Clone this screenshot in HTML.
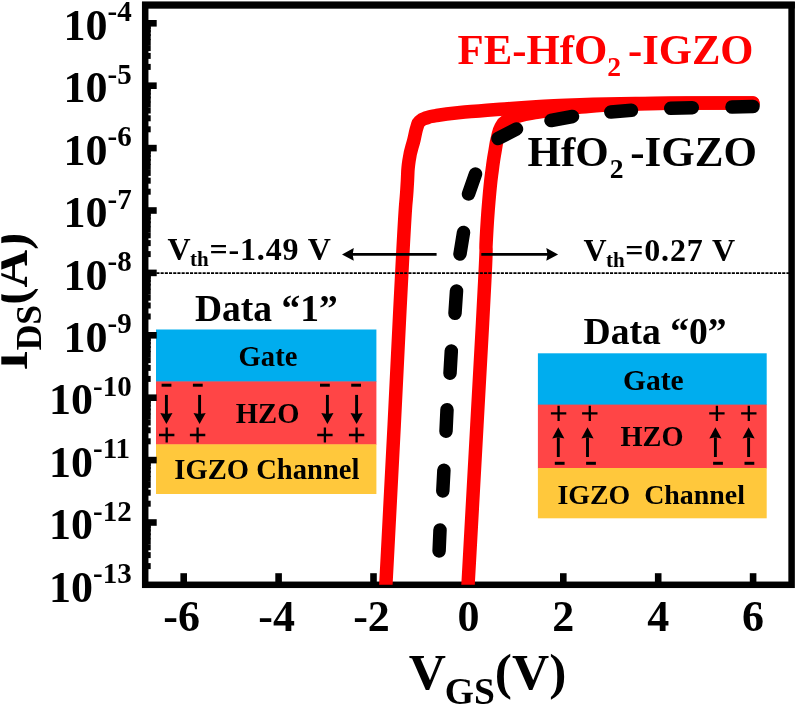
<!DOCTYPE html>
<html><head><meta charset="utf-8"><title>IDS-VGS transfer curves</title>
<style>
html,body{margin:0;padding:0;background:#fff;}
body{width:797px;height:706px;overflow:hidden;}
svg{display:block;}
text{font-family:"Liberation Serif",serif;font-weight:bold;}
</style></head><body>
<svg width="797" height="706" viewBox="0 0 797 706">
<rect width="797" height="706" fill="#fff"/>

<rect x="156" y="329.5" width="220.4" height="52.4" fill="#00adee"/>
<rect x="156" y="381.4" width="220.4" height="63.4" fill="#ff4546"/>
<rect x="156" y="444.3" width="220.4" height="49.7" fill="#ffc83c"/>
<text x="195" y="320.9" font-size="37.5">Data “1”</text>
<text x="268" y="366" font-size="28.6" text-anchor="middle">Gate</text>
<text x="267.6" y="422.9" font-size="28.6" text-anchor="middle">HZO</text>
<text x="266.9" y="478.9" font-size="28.6" text-anchor="middle">IGZO Channel</text>
<g stroke="#000" fill="#000">
<line x1="161.6" y1="385.2" x2="171.4" y2="385.2" stroke-width="3"/>
<line x1="192.9" y1="385.2" x2="202.7" y2="385.2" stroke-width="3"/>
<line x1="320.0" y1="385.2" x2="329.8" y2="385.2" stroke-width="3"/>
<line x1="351.2" y1="385.2" x2="361.0" y2="385.2" stroke-width="3"/>
<line x1="166.4" y1="394.9" x2="166.4" y2="414.1" stroke-width="2.9"/>
<path d="M166.4 424.1 L160.3 412.9 L166.4 414.1 L172.5 412.9 Z" stroke="none"/>
<line x1="199.6" y1="394.9" x2="199.6" y2="414.1" stroke-width="2.9"/>
<path d="M199.6 424.1 L193.5 412.9 L199.6 414.1 L205.7 412.9 Z" stroke="none"/>
<line x1="327.4" y1="394.9" x2="327.4" y2="414.1" stroke-width="2.9"/>
<path d="M327.4 424.1 L321.3 412.9 L327.4 414.1 L333.5 412.9 Z" stroke="none"/>
<line x1="356.6" y1="394.9" x2="356.6" y2="414.1" stroke-width="2.9"/>
<path d="M356.6 424.1 L350.5 412.9 L356.6 414.1 L362.7 412.9 Z" stroke="none"/>
<path d="M159.0 435 H174.4 M166.7 427.4 V442.6" fill="none" stroke-width="2.3"/>
<path d="M189.9 435 H205.3 M197.6 427.4 V442.6" fill="none" stroke-width="2.3"/>
<path d="M317.2 435 H332.6 M324.9 427.4 V442.6" fill="none" stroke-width="2.3"/>
<path d="M348.9 435 H364.3 M356.6 427.4 V442.6" fill="none" stroke-width="2.3"/>
</g>
<rect x="537.9" y="353.3" width="228.8" height="51.8" fill="#00adee"/>
<rect x="537.9" y="404.6" width="228.8" height="63.9" fill="#ff4546"/>
<rect x="537.9" y="468" width="228.8" height="50.3" fill="#ffc83c"/>
<text x="583.6" y="343.8" font-size="37.6">Data “0”</text>
<text x="653.3" y="389.5" font-size="29.5" text-anchor="middle">Gate</text>
<text x="652.1" y="446.2" font-size="28.4" text-anchor="middle">HZO</text>
<text x="651.2" y="503.6" font-size="27.9" text-anchor="middle" xml:space="preserve">IGZO  Channel</text>
<g stroke="#000" fill="#000">
<path d="M550.9 413.4 H566.3 M558.6 405.8 V421.0" fill="none" stroke-width="2.3"/>
<path d="M582.1 413.4 H597.5 M589.8 405.8 V421.0" fill="none" stroke-width="2.3"/>
<path d="M709.2 413.4 H724.6 M716.9 405.8 V421.0" fill="none" stroke-width="2.3"/>
<path d="M741.1 413.4 H756.5 M748.8 405.8 V421.0" fill="none" stroke-width="2.3"/>
<line x1="558.3" y1="457" x2="558.3" y2="437.3" stroke-width="2.9"/>
<path d="M558.3 427.3 L552.2 438.5 L558.3 437.3 L564.4 438.5 Z" stroke="none"/>
<line x1="587.5" y1="457" x2="587.5" y2="437.3" stroke-width="2.9"/>
<path d="M587.5 427.3 L581.4 438.5 L587.5 437.3 L593.6 438.5 Z" stroke="none"/>
<line x1="715.4" y1="457" x2="715.4" y2="437.3" stroke-width="2.9"/>
<path d="M715.4 427.3 L709.3 438.5 L715.4 437.3 L721.5 438.5 Z" stroke="none"/>
<line x1="748.6" y1="457" x2="748.6" y2="437.3" stroke-width="2.9"/>
<path d="M748.6 427.3 L742.5 438.5 L748.6 437.3 L754.7 438.5 Z" stroke="none"/>
<line x1="554.8" y1="463.3" x2="564.6" y2="463.3" stroke-width="3"/>
<line x1="586.1" y1="463.3" x2="595.9" y2="463.3" stroke-width="3"/>
<line x1="713.1" y1="463.3" x2="722.9" y2="463.3" stroke-width="3"/>
<line x1="744.5" y1="463.3" x2="754.3" y2="463.3" stroke-width="3"/>
</g>
<g stroke="#000" fill="none">
<rect x="145.2" y="5.1" width="646.4" height="579.7" stroke-width="6.5"/>
<line x1="142" y1="5.05" x2="794.85" y2="5.05" stroke-width="7"/>
<line x1="148" y1="23.3" x2="156.7" y2="23.3" stroke-width="6.6"/>
<line x1="148" y1="85.7" x2="156.7" y2="85.7" stroke-width="6.6"/>
<line x1="148" y1="148.1" x2="156.7" y2="148.1" stroke-width="6.6"/>
<line x1="148" y1="210.5" x2="156.7" y2="210.5" stroke-width="6.6"/>
<line x1="148" y1="272.9" x2="156.7" y2="272.9" stroke-width="6.6"/>
<line x1="148" y1="335.3" x2="156.7" y2="335.3" stroke-width="6.6"/>
<line x1="148" y1="397.7" x2="156.7" y2="397.7" stroke-width="6.6"/>
<line x1="148" y1="460.1" x2="156.7" y2="460.1" stroke-width="6.6"/>
<line x1="148" y1="522.5" x2="156.7" y2="522.5" stroke-width="6.6"/>
<line x1="148" y1="66.9" x2="150.7" y2="66.9" stroke-width="6"/>
<line x1="148" y1="55.9" x2="150.7" y2="55.9" stroke-width="6"/>
<line x1="148" y1="48.1" x2="150.7" y2="48.1" stroke-width="6"/>
<line x1="148" y1="42.1" x2="150.7" y2="42.1" stroke-width="6"/>
<line x1="148" y1="37.1" x2="150.7" y2="37.1" stroke-width="6"/>
<line x1="148" y1="33.0" x2="150.7" y2="33.0" stroke-width="6"/>
<line x1="148" y1="29.3" x2="150.7" y2="29.3" stroke-width="6"/>
<line x1="148" y1="26.2" x2="150.7" y2="26.2" stroke-width="6"/>
<line x1="148" y1="129.3" x2="150.7" y2="129.3" stroke-width="6"/>
<line x1="148" y1="118.3" x2="150.7" y2="118.3" stroke-width="6"/>
<line x1="148" y1="110.5" x2="150.7" y2="110.5" stroke-width="6"/>
<line x1="148" y1="104.5" x2="150.7" y2="104.5" stroke-width="6"/>
<line x1="148" y1="99.5" x2="150.7" y2="99.5" stroke-width="6"/>
<line x1="148" y1="95.4" x2="150.7" y2="95.4" stroke-width="6"/>
<line x1="148" y1="91.7" x2="150.7" y2="91.7" stroke-width="6"/>
<line x1="148" y1="88.6" x2="150.7" y2="88.6" stroke-width="6"/>
<line x1="148" y1="191.7" x2="150.7" y2="191.7" stroke-width="6"/>
<line x1="148" y1="180.7" x2="150.7" y2="180.7" stroke-width="6"/>
<line x1="148" y1="172.9" x2="150.7" y2="172.9" stroke-width="6"/>
<line x1="148" y1="166.9" x2="150.7" y2="166.9" stroke-width="6"/>
<line x1="148" y1="161.9" x2="150.7" y2="161.9" stroke-width="6"/>
<line x1="148" y1="157.8" x2="150.7" y2="157.8" stroke-width="6"/>
<line x1="148" y1="154.1" x2="150.7" y2="154.1" stroke-width="6"/>
<line x1="148" y1="151.0" x2="150.7" y2="151.0" stroke-width="6"/>
<line x1="148" y1="254.1" x2="150.7" y2="254.1" stroke-width="6"/>
<line x1="148" y1="243.1" x2="150.7" y2="243.1" stroke-width="6"/>
<line x1="148" y1="235.3" x2="150.7" y2="235.3" stroke-width="6"/>
<line x1="148" y1="229.3" x2="150.7" y2="229.3" stroke-width="6"/>
<line x1="148" y1="224.3" x2="150.7" y2="224.3" stroke-width="6"/>
<line x1="148" y1="220.2" x2="150.7" y2="220.2" stroke-width="6"/>
<line x1="148" y1="216.5" x2="150.7" y2="216.5" stroke-width="6"/>
<line x1="148" y1="213.4" x2="150.7" y2="213.4" stroke-width="6"/>
<line x1="148" y1="316.5" x2="150.7" y2="316.5" stroke-width="6"/>
<line x1="148" y1="305.5" x2="150.7" y2="305.5" stroke-width="6"/>
<line x1="148" y1="297.7" x2="150.7" y2="297.7" stroke-width="6"/>
<line x1="148" y1="291.7" x2="150.7" y2="291.7" stroke-width="6"/>
<line x1="148" y1="286.7" x2="150.7" y2="286.7" stroke-width="6"/>
<line x1="148" y1="282.6" x2="150.7" y2="282.6" stroke-width="6"/>
<line x1="148" y1="278.9" x2="150.7" y2="278.9" stroke-width="6"/>
<line x1="148" y1="275.8" x2="150.7" y2="275.8" stroke-width="6"/>
<line x1="148" y1="378.9" x2="150.7" y2="378.9" stroke-width="6"/>
<line x1="148" y1="367.9" x2="150.7" y2="367.9" stroke-width="6"/>
<line x1="148" y1="360.1" x2="150.7" y2="360.1" stroke-width="6"/>
<line x1="148" y1="354.1" x2="150.7" y2="354.1" stroke-width="6"/>
<line x1="148" y1="349.1" x2="150.7" y2="349.1" stroke-width="6"/>
<line x1="148" y1="345.0" x2="150.7" y2="345.0" stroke-width="6"/>
<line x1="148" y1="341.3" x2="150.7" y2="341.3" stroke-width="6"/>
<line x1="148" y1="338.2" x2="150.7" y2="338.2" stroke-width="6"/>
<line x1="148" y1="441.3" x2="150.7" y2="441.3" stroke-width="6"/>
<line x1="148" y1="430.3" x2="150.7" y2="430.3" stroke-width="6"/>
<line x1="148" y1="422.5" x2="150.7" y2="422.5" stroke-width="6"/>
<line x1="148" y1="416.5" x2="150.7" y2="416.5" stroke-width="6"/>
<line x1="148" y1="411.5" x2="150.7" y2="411.5" stroke-width="6"/>
<line x1="148" y1="407.4" x2="150.7" y2="407.4" stroke-width="6"/>
<line x1="148" y1="403.7" x2="150.7" y2="403.7" stroke-width="6"/>
<line x1="148" y1="400.6" x2="150.7" y2="400.6" stroke-width="6"/>
<line x1="148" y1="503.7" x2="150.7" y2="503.7" stroke-width="6"/>
<line x1="148" y1="492.7" x2="150.7" y2="492.7" stroke-width="6"/>
<line x1="148" y1="484.9" x2="150.7" y2="484.9" stroke-width="6"/>
<line x1="148" y1="478.9" x2="150.7" y2="478.9" stroke-width="6"/>
<line x1="148" y1="473.9" x2="150.7" y2="473.9" stroke-width="6"/>
<line x1="148" y1="469.8" x2="150.7" y2="469.8" stroke-width="6"/>
<line x1="148" y1="466.1" x2="150.7" y2="466.1" stroke-width="6"/>
<line x1="148" y1="463.0" x2="150.7" y2="463.0" stroke-width="6"/>
<line x1="148" y1="566.1" x2="150.7" y2="566.1" stroke-width="6"/>
<line x1="148" y1="555.1" x2="150.7" y2="555.1" stroke-width="6"/>
<line x1="148" y1="547.3" x2="150.7" y2="547.3" stroke-width="6"/>
<line x1="148" y1="541.3" x2="150.7" y2="541.3" stroke-width="6"/>
<line x1="148" y1="536.3" x2="150.7" y2="536.3" stroke-width="6"/>
<line x1="148" y1="532.2" x2="150.7" y2="532.2" stroke-width="6"/>
<line x1="148" y1="528.5" x2="150.7" y2="528.5" stroke-width="6"/>
<line x1="148" y1="525.4" x2="150.7" y2="525.4" stroke-width="6"/>
<line x1="183.7" y1="582" x2="183.7" y2="573.2" stroke-width="6.6"/>
<line x1="278.6" y1="582" x2="278.6" y2="573.2" stroke-width="6.6"/>
<line x1="373.5" y1="582" x2="373.5" y2="573.2" stroke-width="6.6"/>
<line x1="468.4" y1="582" x2="468.4" y2="573.2" stroke-width="6.6"/>
<line x1="563.3" y1="582" x2="563.3" y2="573.2" stroke-width="6.6"/>
<line x1="658.2" y1="582" x2="658.2" y2="573.2" stroke-width="6.6"/>
<line x1="753.1" y1="582" x2="753.1" y2="573.2" stroke-width="6.6"/>
</g>
<clipPath id="cp"><rect x="145.2" y="5.1" width="646.4" height="579.6"/></clipPath>
<g clip-path="url(#cp)" fill="none" stroke-linejoin="round" stroke-linecap="round">
<path d="M385.3 596.0 C385.5 592.3 383.6 627.6 386.0 582.0 C388.4 536.4 389.7 513.5 394.2 425.0 C398.7 336.5 399.6 312.7 403.0 250.0 C406.4 187.3 405.3 213.8 406.9 190.0 C408.5 166.2 407.1 174.2 409.0 160.8 C410.9 147.4 411.9 148.6 414.0 139.6 C416.1 130.6 415.4 131.9 417.0 127.0 C418.6 122.1 417.6 123.7 420.0 121.3 C422.4 118.9 421.5 119.5 426.0 118.0 C430.5 116.5 428.2 116.9 436.7 115.5 C445.2 114.1 446.6 113.9 457.9 112.7 C469.2 111.5 468.0 111.8 479.2 110.9 C490.4 110.0 483.8 110.5 500.0 109.3 C516.2 108.1 518.7 107.7 540.0 106.5 C561.3 105.3 553.3 105.6 580.0 104.8 C606.7 104.0 608.0 104.0 640.0 103.5 C672.0 103.0 669.9 103.1 700.0 103.0 C730.1 102.9 738.9 103.0 753.0 103.0" stroke="#ff0000" stroke-width="13.5"/>
<path d="M467.5 596.0 C467.7 592.3 465.7 627.6 468.2 582.0 C470.7 536.4 472.5 505.5 476.9 425.0 C481.3 344.5 482.3 329.5 484.8 280.0 C487.3 230.5 485.2 260.7 486.3 239.2 C487.4 217.7 487.4 218.0 489.0 199.5 C490.6 181.0 490.5 183.0 492.2 169.8 C493.9 156.6 493.8 158.5 495.2 150.0 C496.6 141.5 496.0 144.1 497.5 138.0 C499.0 131.9 498.5 131.7 501.0 127.0 C503.5 122.3 502.5 123.4 507.0 120.5 C511.5 117.6 510.0 118.5 518.0 116.3 C526.0 114.1 525.8 114.3 537.0 112.4 C548.2 110.5 548.3 110.7 560.0 109.3 C571.7 107.9 565.0 108.3 581.0 107.0 C597.0 105.7 593.6 105.5 620.0 104.5 C646.4 103.5 644.5 103.6 680.0 103.2 C715.5 102.8 733.5 103.1 753.0 103.0" stroke="#ff0000" stroke-width="13.5"/>
<path d="M439.1 551 L440.0 530 M442.8 491 L443.9 470.2 M446 431.3 L447 409.7 M450 373.3 L451.3 351 M455 313.3 L456.5 291 M460 254 L463.5 232.5 M468.5 194 L475.5 174 M498 138.5 L516.5 129 M551 120.5 L572.5 116.5 M610.8 112 L631.5 110.3 M670.7 108.3 L692.3 107.7 M732 107 L753 106.5" stroke="#000" stroke-width="13.5"/>
</g>
<g stroke="#000" stroke-width="2.9" fill="#000">
<line x1="350" y1="254.4" x2="436.6" y2="254.4"/><path d="M342 254.4 L353.8 248.1 L352.6 254.4 L353.8 260.7 Z" stroke="none"/>
<line x1="481.3" y1="254.4" x2="550" y2="254.4"/><path d="M558.1 254.4 L546.3 248.1 L547.5 254.4 L546.3 260.7 Z" stroke="none"/>
</g>
<line x1="148" y1="273.1" x2="789" y2="273.1" stroke="#000" stroke-width="1.7" stroke-dasharray="3.1 1.1"/>
<text x="63.5" y="39.9" font-size="44">10<tspan font-size="29" dy="-18.5">-4</tspan></text>
<text x="63.5" y="102.3" font-size="44">10<tspan font-size="29" dy="-18.5">-5</tspan></text>
<text x="63.5" y="164.7" font-size="44">10<tspan font-size="29" dy="-18.5">-6</tspan></text>
<text x="63.5" y="227.1" font-size="44">10<tspan font-size="29" dy="-18.5">-7</tspan></text>
<text x="63.5" y="289.5" font-size="44">10<tspan font-size="29" dy="-18.5">-8</tspan></text>
<text x="63.5" y="351.9" font-size="44">10<tspan font-size="29" dy="-18.5">-9</tspan></text>
<text x="49" y="414.3" font-size="44">10<tspan font-size="29" dy="-18.5">-10</tspan></text>
<text x="49" y="476.7" font-size="44">10<tspan font-size="29" dy="-18.5">-11</tspan></text>
<text x="49" y="539.1" font-size="44">10<tspan font-size="29" dy="-18.5">-12</tspan></text>
<text x="49" y="601.5" font-size="44">10<tspan font-size="29" dy="-18.5">-13</tspan></text>
<text x="181.7" y="630.8" font-size="44" text-anchor="middle">-6</text>
<text x="276.6" y="630.8" font-size="44" text-anchor="middle">-4</text>
<text x="371.5" y="630.8" font-size="44" text-anchor="middle">-2</text>
<text x="468.4" y="630.8" font-size="44" text-anchor="middle">0</text>
<text x="563.3" y="630.8" font-size="44" text-anchor="middle">2</text>
<text x="658.2" y="630.8" font-size="44" text-anchor="middle">4</text>
<text x="753.1" y="630.8" font-size="44" text-anchor="middle">6</text>
<text x="408.8" y="689.3" font-size="51.5">V<tspan font-size="37.5" dy="15" dx="-1.2">GS</tspan><tspan dy="-15">(V)</tspan></text>
<text transform="translate(27.4,370.6) rotate(-90)" font-size="52">I<tspan font-size="35.6" dy="14">DS</tspan><tspan dy="-14">(A)</tspan></text>
<g fill="#ff0000"><text x="457.5" y="63.8" font-size="42.8">FE-HfO</text><text x="607.3" y="75.8" font-size="27.6">2</text><text x="628" y="63.8" font-size="42.6">-IGZO</text></g>
<g><text x="527.5" y="166.2" font-size="43">HfO</text><text x="609.8" y="178.2" font-size="27.6">2</text><text x="630.3" y="166.2" font-size="43">-IGZO</text></g>
<text x="167.6" y="259.8" font-size="32" xml:space="preserve">V<tspan font-size="21" dy="6.5" dx="-0.8">th</tspan><tspan dy="-6.5" dx="0.8" letter-spacing="0.85">=-1.49 V</tspan></text>
<text x="583.4" y="260.5" font-size="32" xml:space="preserve">V<tspan font-size="21" dy="6.5" dx="-0.5">th</tspan><tspan dy="-6.5" dx="0.5" letter-spacing="0.85">=0.27 V</tspan></text>
<rect x="0" y="180" width="1.3" height="220" fill="#fff"/>
</svg></body></html>
